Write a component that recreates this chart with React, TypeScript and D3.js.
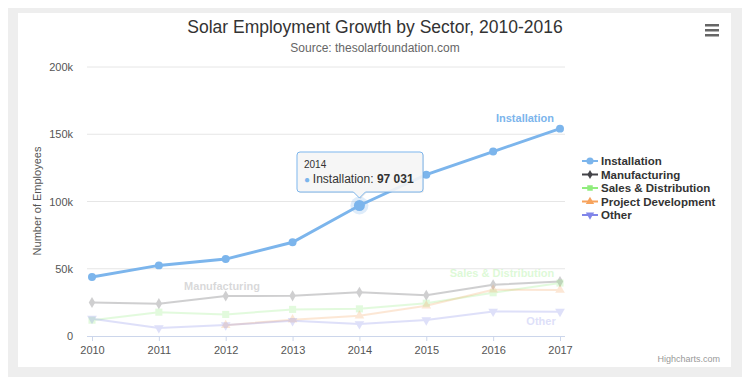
import React, { useEffect, useRef } from 'react'
import * as d3 from 'd3'

const years = [2010, 2011, 2012, 2013, 2014, 2015, 2016, 2017]
const yTicks = [0, 50000, 100000, 150000, 200000]
const seriesNames = ['Installation', 'Manufacturing', 'Sales & Distribution', 'Project Development', 'Other']
const seriesColors = ['#7cb5ec', '#434348', '#90ed7d', '#f7a35c', '#8085e9']
const installation = [43934, 52503, 57177, 69658, 97031, 119931, 137133, 154175]
const manufacturing = [24916, 24064, 29742, 29851, 32490, 30282, 38121, 40434]
const salesDistribution = [11744, 17722, 16005, 19771, 20185, 24377, 32147, 39387]
const projectDevelopment = [null, null, 7988, 12169, 15112, 22452, 34400, 34227]
const other = [12908, 5948, 8105, 11248, 8989, 11816, 18274, 18111]

const FONT = '"Lucida Grande", "Liberation Sans", "DejaVu Sans", sans-serif'

function Chart() {
  const ref = useRef<SVGSVGElement>(null)

  useEffect(() => {
    const svg = d3.select(ref.current)
    svg.selectAll('*').remove()
    const W = 750, H = 385

    // frame
    svg.append('rect').attr('width', W).attr('height', H).attr('fill', '#1fab5e')
    svg.append('rect').attr('x', 5).attr('y', 5).attr('width', W - 10).attr('height', H - 11).attr('fill', '#eeeeee')
    svg.append('rect').attr('x', 18).attr('y', 13).attr('width', 713).attr('height', 354).attr('fill', '#fff')

    const x = d3.scaleLinear().domain([2010, 2017]).range([92, 560])
    const y = d3.scaleLinear().domain([0, 200000]).range([336, 67])

    // title
    svg.append('text').attr('x', 375).attr('y', 33).attr('text-anchor', 'middle')
      .attr('font-family', FONT).attr('font-size', 17.5).attr('fill', '#333')
      .text('Solar Employment Growth by Sector, 2010-2016')
    svg.append('text').attr('x', 375).attr('y', 52).attr('text-anchor', 'middle')
      .attr('font-family', FONT).attr('font-size', 12).attr('fill', '#666')
      .text('Source: thesolarfoundation.com')

    // menu icon
    ;[0, 5, 10].forEach(d => {
      svg.append('rect').attr('x', 705).attr('y', 24 + d).attr('width', 14).attr('height', 2.5).attr('fill', '#666')
    })

    // grid
    const g = svg.append('g')
    g.selectAll('.grid').data(yTicks.slice(1)).enter().append('line')
      .attr('x1', 87).attr('x2', 565)
      .attr('y1', d => y(d)).attr('y2', d => y(d))
      .attr('stroke', '#e6e6e6').attr('stroke-width', 1)

    // y axis labels
    const yAxis = d3.axisLeft(y).tickValues(yTicks).tickSize(0).tickPadding(0)
      .tickFormat(d => (+d === 0 ? '0' : +d / 1000 + 'k'))
    const ya = g.append('g').attr('transform', 'translate(73,0)').call(yAxis)
    ya.select('.domain').remove()
    ya.selectAll('text').attr('font-family', FONT).attr('font-size', 11).attr('fill', '#555').attr('dy', '0.32em')

    svg.append('text').attr('transform', 'translate(41,201) rotate(-90)').attr('text-anchor', 'middle')
      .attr('font-family', FONT).attr('font-size', 11).attr('fill', '#555')
      .text('Number of Employees')

    // x axis
    const xAxis = d3.axisBottom(x).tickValues(years).tickSize(5).tickPadding(5).tickFormat(d3.format('d'))
    const xa = g.append('g').attr('transform', 'translate(0,336)').call(xAxis)
    xa.select('.domain').attr('d', 'M87,0.5H565').attr('stroke', '#ccd6eb')
    xa.selectAll('.tick line').attr('stroke', '#ccd6eb')
    xa.selectAll('text').attr('font-family', FONT).attr('font-size', 11).attr('fill', '#555')

    const allData = [installation, manufacturing, salesDistribution, projectDevelopment, other]
    const symbols = [d3.symbolCircle, d3.symbolDiamond, d3.symbolSquare, d3.symbolTriangle, d3.symbolTriangle]
    const sizes = [50, 36, 50, 40, 40]
    const opac = [1, 0.25, 0.25, 0.25, 0.25]

    const line = d3.line<number | null>()
      .defined(d => d !== null)
      .x((d, i) => x(years[i]))
      .y(d => y(d as number))

    const order = [1, 2, 3, 4, 0]
    order.forEach(si => {
      const data = allData[si]
      const sg = svg.append('g').attr('opacity', opac[si])
      sg.append('path').attr('d', line(data) as string).attr('fill', 'none')
        .attr('stroke', seriesColors[si]).attr('stroke-width', si === 0 ? 3 : 2)
      sg.selectAll('path.m').data(data.map((v, i) => ({ v, i })).filter(d => d.v !== null)).enter()
        .append('path').attr('class', 'm')
        .attr('d', d3.symbol().type(symbols[si]).size(sizes[si]))
        .attr('transform', d => `translate(${x(years[d.i])},${y(d.v as number)})${si === 4 ? ' rotate(180)' : ''}`)
        .attr('fill', seriesColors[si])
    })

    // series labels
    const labels = [
      { t: 'Installation', x: 525, y: 122, c: seriesColors[0], o: 1 },
      { t: 'Manufacturing', x: 222, y: 290, c: '#434348', o: 0.2 },
      { t: 'Sales & Distribution', x: 502, y: 277, c: seriesColors[2], o: 0.3 },
      { t: 'Other', x: 541, y: 325, c: seriesColors[4], o: 0.25 },
    ]
    labels.forEach(l => {
      svg.append('text').attr('x', l.x).attr('y', l.y).attr('text-anchor', 'middle')
        .attr('font-family', FONT).attr('font-size', 11).attr('font-weight', 'bold')
        .attr('fill', l.c).attr('opacity', l.o).text(l.t)
    })

    // hover point
    const hx = x(2014), hy = y(installation[4])
    svg.append('circle').attr('cx', hx).attr('cy', hy).attr('r', 9).attr('fill', seriesColors[0]).attr('opacity', 0.25)
    svg.append('circle').attr('cx', hx).attr('cy', hy).attr('r', 5.5).attr('fill', seriesColors[0])

    // tooltip
    const tx = 297, ty = 152, tw = 126, th = 40
    const tipPath = `M${tx + 3},${ty} H${tx + tw - 3} Q${tx + tw},${ty} ${tx + tw},${ty + 3} V${ty + th - 3} Q${tx + tw},${ty + th} ${tx + tw - 3},${ty + th} H${hx + 6} L${hx},${ty + th + 6} L${hx - 6},${ty + th} H${tx + 3} Q${tx},${ty + th} ${tx},${ty + th - 3} V${ty + 3} Q${tx},${ty} ${tx + 3},${ty} Z`
    const tt = svg.append('g')
    tt.append('path').attr('d', tipPath)
      .attr('fill', 'rgba(0,0,0,0.08)').attr('transform', 'translate(1,1)')
    tt.append('path').attr('d', tipPath)
      .attr('fill', 'rgba(247,247,247,0.9)').attr('stroke', seriesColors[0]).attr('stroke-width', 1)
    tt.append('text').attr('x', tx + 7).attr('y', ty + 16).attr('font-family', FONT).attr('font-size', 10).attr('fill', '#333')
      .text(String(years[4]))
    const t2 = tt.append('text').attr('x', tx + 7).attr('y', ty + 31).attr('font-family', FONT).attr('font-size', 12).attr('fill', '#333')
    t2.append('tspan').attr('fill', seriesColors[0]).text('● ').attr('font-size', 10)
    t2.append('tspan').text('Installation: ')
    t2.append('tspan').attr('font-weight', 'bold').text(d3.format(',')(installation[4]).replace(',', ' '))

    // legend
    seriesNames.forEach((n, i) => {
      const ly = 161 + i * 13.5
      const lg = svg.append('g')
      lg.append('line').attr('x1', 582).attr('x2', 598).attr('y1', ly).attr('y2', ly)
        .attr('stroke', seriesColors[i]).attr('stroke-width', 2)
      lg.append('path').attr('d', d3.symbol().type(symbols[i]).size(i === 0 ? 40 : i === 1 ? 24 : 30))
        .attr('transform', `translate(590,${ly})${i === 4 ? ' rotate(180)' : ''}`)
        .attr('fill', seriesColors[i])
      lg.append('text').attr('x', 601).attr('y', ly + 4).attr('font-family', FONT)
        .attr('font-size', 11.5).attr('font-weight', 'bold').attr('fill', '#333').text(n)
    })

    // credits
    svg.append('text').attr('x', 720).attr('y', 362).attr('text-anchor', 'end')
      .attr('font-family', FONT).attr('font-size', 9).attr('fill', '#999').text('Highcharts.com')
  }, [])

  return <svg ref={ref} width={750} height={385} style={{ display: 'block' }} />
}

export default function App() {
  return (
    <div style={{ margin: -8 }}>
      <Chart />
    </div>
  )
}
